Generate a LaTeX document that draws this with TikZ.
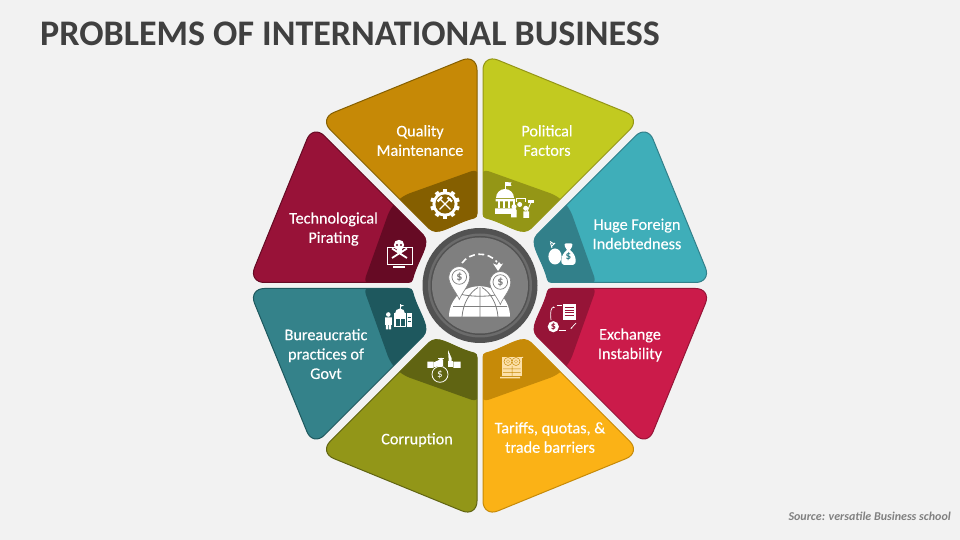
\documentclass[tikz,border=0pt]{standalone}
\usepackage{fontspec}
\setmainfont{Carlito}
\newfontfamily\lblfont[FakeBold=0.25]{Carlito}
\usetikzlibrary{arrows.meta}
\definecolor{pagebg}{RGB}{242,242,242}
\definecolor{qualA}{RGB}{198,137,6}   \definecolor{qualB}{RGB}{133,95,0}
\definecolor{poliA}{RGB}{194,202,32}  \definecolor{poliB}{RGB}{148,150,22}
\definecolor{hugeA}{RGB}{63,174,185}  \definecolor{hugeB}{RGB}{50,128,138}
\definecolor{exchA}{RGB}{203,27,74}   \definecolor{exchB}{RGB}{150,20,55}
\definecolor{tariA}{RGB}{251,178,22}  \definecolor{tariB}{RGB}{198,138,8}
\definecolor{corrA}{RGB}{146,150,24}  \definecolor{corrB}{RGB}{96,100,18}
\definecolor{bureA}{RGB}{52,130,138}  \definecolor{bureB}{RGB}{30,88,94}
\definecolor{techA}{RGB}{152,18,56}   \definecolor{techB}{RGB}{102,10,36}
\definecolor{hubgrey}{RGB}{127,127,127}
\definecolor{gatecol}{RGB}{253,225,170}
\tikzset{
  lbl/.style={text=white,align=center,inner sep=0pt,font=\lblfont\fontsize{16.2}{19.4}\selectfont},
  dollar/.style={inner sep=0pt,font=\bfseries\fontsize{#1}{#1}\selectfont}
}
\newcommand{\sectorpath}{(-3,72) [rounded corners=16pt] -- (-3,231.5) -- (-161,167) [sharp corners] -- (-54,60)
  .. controls (-50,55.5) and (-46,53) .. (-40,54.5) .. controls (-30,57) and (-20,64) .. (-6,67.5)
  .. controls (-4,68) and (-3,69.5) .. (-3,72) -- cycle}
\newcommand{\sector}[3]{
  \begin{scope}[#1]
    \begin{scope}
      \clip \sectorpath;
      \fill[#2] \sectorpath;
      \fill[#3] (-95,72) [rounded corners=8pt] -- (-78,89.5) -- (-1,117) -- (-1,40) [sharp corners] -- (-95,40) -- cycle;
    \end{scope}
    \draw[#3,line width=1pt] \sectorpath;
  \end{scope}}
\newcommand{\mappin}[3]{
  \fill[white,draw=hubgrey,line width=.6pt] (#1-10.5,#2) arc[start angle=180,end angle=360,radius=10.5]
    .. controls (#1+10.5,#2+8) and (#1+3,#2+15) .. (#1,#2+22.5) .. controls (#1-3,#2+15) and (#1-10.5,#2+8) .. cycle;
  \draw[hubgrey,line width=.7pt] (#1,#2) circle (7.3);
  \node[dollar=12,text=hubgrey] (#3) at (#1,#2) {\$};}
\begin{document}
\begin{tikzpicture}[x=1pt,y=1pt]
  \useasboundingbox (-480,-254.5) rectangle (480,285.5);
  \fill[pagebg] (-480,-254.5) rectangle (480,285.5);
  % eight sectors
  \sector{}{qualA}{qualB}
  \sector{xscale=-1}{poliA}{poliB}
  \sector{rotate=-90}{hugeA}{hugeB}
  \sector{cm={0,1,1,0,(0,0)}}{exchA}{exchB}
  \sector{rotate=180}{tariA}{tariB}
  \sector{yscale=-1}{corrA}{corrB}
  \sector{rotate=90}{bureA}{bureB}
  \sector{cm={0,-1,-1,0,(0,0)}}{techA}{techB}
  % hub
  \fill[black!68] (0,0) circle (57.5);
  \fill[black!58] (0,0) circle (52);
  \fill[black!68] (0,0) circle (49.5);
  \fill[hubgrey] (0,0) circle (48);
  % from here on: picture pixels, y downwards
  \begin{scope}[shift={(-480,285.5)},yscale=-1]
    \node[anchor=base west,inner sep=0pt,text=black!75,font=\bfseries\fontsize{36}{36}\selectfont] (title) at (40,46) {PROBLEMS OF INTERNATIONAL BUSINESS};
    \node[anchor=base east,inner sep=0pt,text=black!50,font=\bfseries\itshape\fontsize{12}{12}\selectfont] (source) at (951,520) {Source: versatile Business school};

    \node[lbl] (quality) at (420,140.5) {Quality\\Maintenance};
    \node[lbl] (political) at (547,140.5) {Political\\Factors};
    \node[lbl] (foreign) at (637,234) {Huge Foreign\\Indebtedness};
    \node[lbl] (exchange) at (630,345) {Exchange\\Instability};
    \node[lbl] (tariffs) at (550,437.5) {Tariffs, quotas, \&\\trade barriers};
    \node[lbl] (corruption) at (417,440) {Corruption};
    \node[lbl] (bureau) at (326,354) {Bureaucratic\\practices of\\Govt};
    \node[lbl] (pirating) at (333.5,229) {Technological\\Pirating};

    % hub icon
    \draw[white,line width=1.6pt,dash pattern=on 6pt off 3.5pt] (462,263) .. controls (470,252) and (488,251) .. (497,262);
    \fill[white] (498,271) -- (493,263.5) -- (497,265) -- (499,262) -- (501,264.5) -- (503,263.5) -- cycle;
    \fill[white] (449,316.7) arc[start angle=180,end angle=360,radius=30.5] -- cycle;
    \draw[hubgrey,line width=.8pt] (480,287) -- (480,317)
      (462,317) .. controls (463,303) and (470,292) .. (478,287.5)
      (498,317) .. controls (497,303) and (490,292) .. (482,287.5)
      (453,306.5) -- (507,306.5) (460,294) .. controls (470,297) and (490,297) .. (500,294);
    \mappin{459.3}{277}{pinleft}
    \mappin{500.3}{282}{pinright}

    % gear
    \foreach \a in {0,36,...,324}
      \fill[white,rotate around={\a:(445,204)}] (443,189.2) rectangle (447,193);
    \fill[white] (445,204) circle (12.6);
    \fill[qualB] (445,204) circle (9.6);
    \draw[white,line width=1.3pt] (439.5,198.5) -- (450.5,209.5) (450.5,198.5) -- (439.5,209.5);
    \draw[white,line width=2.2pt] (437.5,201.5) -- (442,197) (447.5,197.5) -- (452,201.5);

    % monitor and skull
    \draw[white,line width=.9pt] (387,247) rectangle (412.5,264);
    \fill[white] (393,266) rectangle (405,267.8);
    \draw[white,line width=1.8pt] (392,248.5) -- (407,258) (407,248.5) -- (392,258);
    \fill[white] (399,245) circle (5.2);
    \fill[white] (396.5,248) rectangle (401.5,252.5);
    \fill[techB] (397,245) circle (1.1) (401,245) circle (1.1);

    % capitol and protesters
    \draw[white,line width=.7pt] (505,190) -- (505,182);
    \fill[white] (505,182) -- (511.5,182.5) -- (510.5,184) -- (511.5,186) -- (505,186) -- cycle;
    \fill[white] (496,198) arc[start angle=180,end angle=360,radius=9] -- cycle;
    \fill[white] (495.5,199) rectangle (515,201.5) (495,208.5) rectangle (516,214);
    \foreach \cx in {497.5,502.5,507.5,512.5}
      \fill[white] (\cx,201.5) rectangle (\cx+2.4,208.5);
    \fill[white] (514,206.7) circle (2.5) (519.7,204.5) circle (2.5) (525.7,208.3) circle (2.5);
    \fill[white] (511,210) rectangle (516.5,217.5) (523.3,211.5) rectangle (529,218);
    \draw[white,line width=.8pt] (516.7,202) -- (516.7,198.2) -- (525,198.2) -- (525,202);
    \fill[white] (528,200) rectangle (534.3,202.6);
    \draw[white,line width=.8pt] (531,202) -- (527,212);

    % round sack and money bag
    \fill[white] (555,256.5) ellipse (6.6 and 8);
    \draw[white,line width=.9pt] (552,248) -- (550.5,243) (550,241.5) -- (554,244) (552,246) -- (555,243);
    \fill[white] (567,250) .. controls (563,244) and (564,243) .. (568.5,243.5) .. controls (573,243) and (574,244) .. (570,250)
      .. controls (577,255) and (577,265) .. (573,265) -- (564,265) .. controls (560,265) and (560,255) .. cycle;
    \node[dollar=11,text=hugeB] (bagmark) at (568.3,257) {\$};

    % document and dollar
    \fill[white] (563,304.5) rectangle (575.7,320);
    \draw[exchB,line width=.7pt] (564.5,307.5) -- (574,307.5) (564.5,310) -- (574,310) (564.5,312.5) -- (574,312.5) (564.5,315) -- (574,315);
    \fill[white] (553.3,326.7) circle (5.6);
    \node[dollar=10,text=exchB] (docmark) at (553.3,326.7) {\$};
    \draw[white,line width=.7pt] (556.7,305.3) -- (561.5,305.3) (559,330) -- (565.7,330);
    \draw[white,line width=.7pt,-{Stealth[length=2.2pt]}] (551,320) .. controls (550,312) and (551,307) .. (555,307.5);
    \draw[white,line width=.7pt,-{Stealth[length=2.2pt]}] (576,323) -- (570.5,329);

    % gate
    \fill[gatecol] (502,357) rectangle (521.5,376);
    \fill[gatecol] (500,376.8) rectangle (520,378.3) (522,357) rectangle (523,358);
    \draw[tariB,line width=.5pt] (508,361.5) circle (4) (516,361.5) circle (4) (512,366) -- (512,376) (503,369) -- (520.5,369) (503,372.5) -- (520.5,372.5);
    \draw[gatecol!50!tariB,line width=.5pt] (508,361.5) circle (1.8) (516,361.5) circle (1.8);

    % government building and clerk
    \draw[white,line width=.7pt] (400,311) -- (400,304.5);
    \fill[white] (400,304.5) -- (404,305.5) -- (400,307) -- cycle;
    \fill[white] (395,313.5) arc[start angle=180,end angle=360,radius=5] -- cycle;
    \fill[white] (393.5,313.5) rectangle (411.7,326.8);
    \fill[bureB] (395.5,319) rectangle (405,325.8);
    \fill[white] (399.6,319) rectangle (400.8,325.8);
    \draw[bureB,line width=.6pt] (406.2,313.5) -- (406.2,326.8) (407.5,317.5) -- (411,317.5) (407.5,321) -- (411,321);
    \fill[white] (388.3,314.5) circle (2.3);
    \fill[white] (385,317.5) rectangle (391.8,325) (385.8,325) rectangle (388,329.5) (388.8,325) rectangle (391,329.5);

    % hands over a coin
    \draw[white,line width=.8pt] (440,374.3) circle (8);
    \node[dollar=11,text=white,font=\fontsize{11}{11}\selectfont] (coinmark) at (440,374.5) {\$};
    \fill[white] (427.3,361.7) rectangle (433.5,367.8) (453.3,361.7) rectangle (460.7,367.8);
    \fill[white] (433.5,362.5) -- (439,360) -- (441,357.5) -- (443,360) -- (443,366) -- (433.5,367) -- cycle;
    \fill[white] (438,358) rectangle (444,359.2);
    \fill[white] (448,350) -- (451.5,358) -- (451.5,365.5) -- (449,365.5) -- cycle;
    \fill[white] (447.5,361) rectangle (453.3,367);
  \end{scope}
\end{tikzpicture}
\end{document}
